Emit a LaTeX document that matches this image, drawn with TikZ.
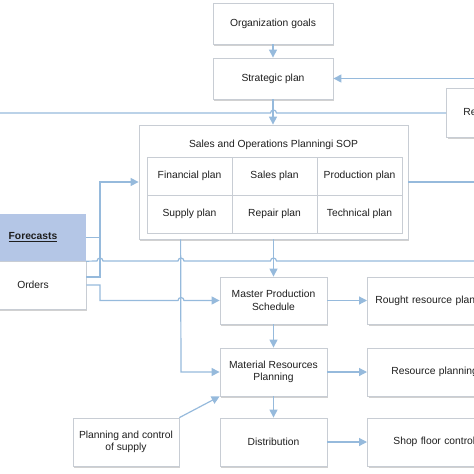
\documentclass[tikz,border=0pt]{standalone}
\usepackage{fontspec}
\setmainfont{Liberation Sans}
\usetikzlibrary{calc}
\usetikzlibrary{arrows.meta}
\usetikzlibrary{shadows}
\definecolor{flowblue}{RGB}{150,186,220}
\definecolor{boxgray}{RGB}{200,205,212}
\definecolor{forefill}{RGB}{180,198,230}
\definecolor{txt}{RGB}{30,30,30}

\begin{document}
\begin{tikzpicture}[x=1pt,y=-1pt,>={Triangle[length=8pt,width=8pt]},
  box/.style={draw=boxgray,fill=white,line width=0.8pt,align=center,inner sep=2pt,
    drop shadow={shadow xshift=1.2pt,shadow yshift=-1.5pt,opacity=0.18,fill=black}},
  cell/.style={draw=boxgray,fill=white,line width=0.8pt,minimum width=85pt,minimum height=38pt},
  rightbox/.style={box,anchor=west,text width=105pt,align=left,minimum height=48pt},
  flow/.style={draw=flowblue,line width=1.2pt},
  font=\fontsize{10.3}{12.4}\selectfont,text=txt]

  \useasboundingbox (0,0) rectangle (474,474);
  \clip (0,0) rectangle (474,474);

  % top of the chart
  \node(goals) at (273,23.5) [box,minimum width=120pt,minimum height=41pt] {Organization goals};
  \node(strat) at (273,78.5) [box,minimum width=120pt,minimum height=41pt] {Strategic plan};
  \node(rebox) at (446,112.5) [rightbox,inner xsep=17pt,minimum height=49pt] {Re};

  % sales and operations block
  \node(sop) at (273.5,182) [box,minimum width=269pt,minimum height=114pt] {};
  \node(soptitle) at (273.5,145) {Sales and Operations Planningi SOP};
  \foreach \name/\x/\y/\txt in {fin/189.5/176/Financial plan, sal/274.5/176/Sales plan,
      prod/359.5/176/Production plan, sup/189.5/214/Supply plan,
      rep/274.5/214/Repair plan, tech/359.5/214/Technical plan}
  {
    \node(\name) at (\x,\y) [cell] {\txt};
  }

  % inputs on the left
  \node(fore) at (33,237.5) [fill=forefill,minimum width=106pt,minimum height=47pt] {\underline{\textbf{Forecasts}}};
  \node(ord) at (33,285) [box,minimum width=106pt,minimum height=48pt] {Orders};

  % planning column
  \node(mps) at (273.5,300.5) [box,minimum width=107pt,minimum height=47pt] {Master Production\\Schedule};
  \node(mrp) at (273.5,372) [box,minimum width=107pt,minimum height=48pt] {Material Resources\\Planning};
  \node(dist) at (273.5,442) [box,minimum width=107pt,minimum height=48pt] {Distribution};
  \node(supply) at (126,442) [box,minimum width=106pt,minimum height=48pt] {Planning and control\\of supply};
  \node(rough) at (367,300.5) [rightbox,inner xsep=8pt,minimum height=47pt] {Rought resource plan};
  \node(resplan) at (367,372) [rightbox,inner xsep=24pt] {Resource planning};
  \node(shop) at (367,442) [rightbox,inner xsep=26pt] {Shop floor control};

  \coordinate(stratin) at (480,78.5);
  \coordinate(leftend) at (-5,113);
  \coordinate(midend) at (480,261);
  \coordinate(sopout) at (480,182);

  % connectors
  \draw[flow,->] (goals) -- (strat);
  \draw[flow,->] (stratin) -- (strat);
  \draw[flow] (leftend) -- (270.5,113) arc[start angle=180,end angle=0,radius=3pt] -- (rebox.west |- leftend);
  \draw[flow,->] (strat.south) -- (strat.south |- sop.north);
  \draw[flow] (sop.east) -- (sopout);

  \draw[flow] (fore.east) -- (100,237.5);
  \draw[flow,->] ([yshift=8pt]ord.east) -- (100,277) -- (100,182) -- (sop.west);
  \draw[flow] (fore.south east) -- (97,261) arc[start angle=180,end angle=0,radius=3pt]
    -- (178,261) arc[start angle=180,end angle=0,radius=3pt]
    -- (270.5,261) arc[start angle=180,end angle=0,radius=3pt] -- (midend);
  \draw[flow,->] (ord.east) -- (100,285) -- (100,300.5) -- (178,300.5)
    arc[start angle=180,end angle=0,radius=3pt] -- (mps.west);
  \draw[flow,->] ([xshift=42pt]sop.south west) -- (181,372) -- (mrp.west);
  \draw[flow,->] (sop.south) -- (mps.north);

  \draw[flow,->] (mps) -- (mrp);
  \draw[flow,->] (mrp) -- (dist);
  \draw[flow,->] (mps.east) -- (rough.west);
  \draw[flow,->] (mrp.east) -- (resplan.west);
  \draw[flow,->] (dist.east) -- (shop.west);
  \draw[flow,->] (supply.north east) -- (mrp.south west);
\end{tikzpicture}
\end{document}
